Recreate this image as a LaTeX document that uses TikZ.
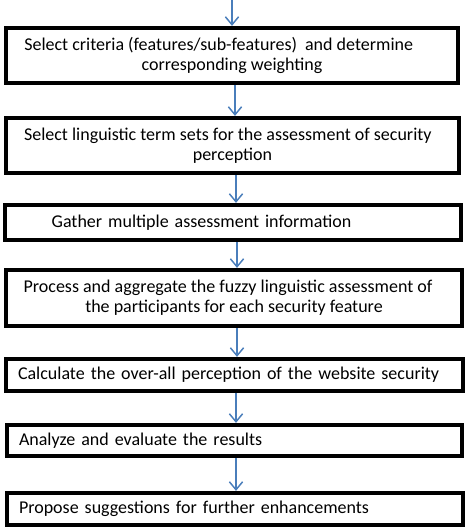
\documentclass[tikz,border=0pt]{standalone}
\usepackage{fontspec}
\setmainfont{Carlito}
\usetikzlibrary{arrows.meta,calc}
\definecolor{arrowblue}{HTML}{4A7EBB}
\begin{document}
\begin{tikzpicture}[x=0.75pt,y=-0.75pt,
  stepbox/.style={draw=black,line width=3.2pt,rectangle,inner xsep=9pt,inner ysep=0pt,
    font=\fontsize{13.5pt}{15pt}\selectfont},
  arr/.style={draw=arrowblue,line width=1.1pt,-{Straight Barb[length=6pt,width=10pt]}}]
\useasboundingbox (0,0) rectangle (474,528);
\coordinate (start) at (232,0);
\node[stepbox,minimum width=452*0.75pt,minimum height=55*0.75pt,align=center] (b1) at (232,55.5)
  {Select criteria (features/sub-features)\ \ and determine\makebox[20pt]{}\\corresponding\ weighting};
\node[stepbox,minimum width=453*0.75pt,minimum height=55*0.75pt,align=center] (b2) at (232.5,145.5)
  {Select linguistic term sets for the assessment of security\makebox[7pt]{}\\perception};
\node[stepbox,minimum width=456*0.75pt,minimum height=35*0.75pt,text width=432*0.75pt,align=left] (b3) at (233,222.5)
  {\hspace*{26pt}Gather multiple assessment\ information};
\node[stepbox,minimum width=456*0.75pt,minimum height=56*0.75pt,align=center] (b4) at (234,298)
  {Process and aggregate\ the fuzzy linguistic assessment\ of\makebox[9pt]{}\\the\ participants for each security feature};
\node[stepbox,minimum width=457*0.75pt,minimum height=32*0.75pt,text width=433*0.75pt,align=left] (b5) at (234.5,375)
  {Calculate the over-all perception of the website security};
\node[stepbox,minimum width=455*0.75pt,minimum height=31*0.75pt,text width=431*0.75pt,align=left] (b6) at (234.5,440.5)
  {Analyze and evaluate\ the results};
\node[stepbox,minimum width=456*0.75pt,minimum height=32*0.75pt,text width=432*0.75pt,align=left] (b7) at (235,509)
  {Propose suggestions for further enhancements};
\coordinate (a1) at (235,0);
\coordinate (a2) at (236,0);
\coordinate (a3) at (237,0);
\draw[arr] (start) -- (b1.north -| start);
\draw[arr] (b1.south -| a1) -- (b2.north -| a1);
\draw[arr] (b2.south -| a2) -- (b3.north -| a2);
\draw[arr] (b3.south -| a3) -- (b4.north -| a3);
\draw[arr] (b4.south -| a3) -- (b5.north -| a3);
\draw[arr] (b5.south -| a2) -- (b6.north -| a2);
\draw[arr] (b6.south -| a2) -- (b7.north -| a2);
\end{tikzpicture}
\end{document}
